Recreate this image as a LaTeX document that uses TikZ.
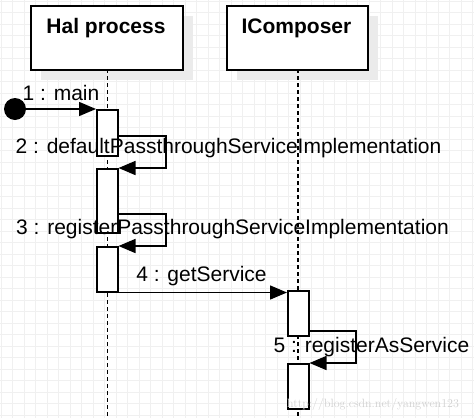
\documentclass[tikz,border=0pt]{standalone}
\usepackage{fontspec}
\setmainfont{Liberation Sans}
\usetikzlibrary{arrows.meta}
\tikzset{
  x=1pt, y=-1pt,
  lifebox/.style={draw, line width=1.5pt, fill=white},
  actbox/.style={draw, line width=1.5pt, fill=white},
  lifeline/.style={line width=1.5pt, dash pattern=on 4pt off 3pt},
  msg/.style={line width=1.5pt, -{Triangle[length=17pt,width=14pt]}},
  lbl/.style={font=\fontsize{21}{24}\selectfont, anchor=base, inner sep=0pt},
  ttl/.style={font=\fontsize{21}{24}\selectfont\bfseries, anchor=base, inner sep=0pt},
}
\begin{document}
\begin{tikzpicture}
\useasboundingbox (0,0) rectangle (474,418);
\fill[white] (0,0) rectangle (474,418);
% faint grid
\foreach \i in {0,...,41} {
  \draw[black!6, line width=0.6pt] (1+\i*11.5,0) -- (1+\i*11.5,418);
}
\foreach \j in {0,...,36} {
  \draw[black!6, line width=0.6pt] (0,1+\j*11.5) -- (474,1+\j*11.5);
}
% shadows
\fill[black!8] (41,16) rectangle (193,80);
\fill[black!8] (237,16) rectangle (378,80);
% lifelines
\coordinate (halbot) at (107.5,69);
\coordinate (halend) at (107.5,418);
\coordinate (icbot) at (298,69);
\coordinate (icend) at (298,418);
\draw[lifeline] (halbot) -- (halend);
\draw[lifeline] (icbot) -- (icend);
% head boxes
\node[lifebox, minimum width=152pt, minimum height=64pt, anchor=north west] (hal) at (30,5) {};
\node[lifebox, minimum width=141pt, minimum height=64pt, anchor=north west] (icomp) at (226,5) {};
\node[ttl] (haltitle) at (106,33) {Hal process};
\node[ttl] (ictitle) at (296.5,33) {IComposer};
% activations
\node[actbox, minimum width=21pt, minimum height=46pt, anchor=north west, inner sep=0pt] (a1) at (96,109) {};
\node[actbox, minimum width=21pt, minimum height=64pt, anchor=north west, inner sep=0pt] (a2) at (96,168) {};
\node[actbox, minimum width=21pt, minimum height=45pt, anchor=north west, inner sep=0pt] (a3) at (96,246) {};
\node[actbox, minimum width=21pt, minimum height=45pt, anchor=north west, inner sep=0pt] (a4) at (287,290) {};
\node[actbox, minimum width=21pt, minimum height=45pt, anchor=north west, inner sep=0pt] (a5) at (287,363) {};
% start dot
\node[circle, fill=black, minimum size=22pt, inner sep=0pt] (start) at (15,109) {};
% message 1
\draw[msg] (start.center) -- (a1.north west);
\node[lbl] (l1) at (61,100) {1 : main};
% message 2 (self)
\coordinate (s2a) at (117,136);
\coordinate (s2b) at (166,136);
\coordinate (s2c) at (166,168);
\draw[msg] (s2a) -- (s2b) -- (s2c) -- (a2.north east);
\node[lbl] (l2) at (228.5,153) {2 : defaultPassthroughServiceImplementation};
% message 3 (self)
\coordinate (s3a) at (117,214);
\coordinate (s3b) at (166,214);
\coordinate (s3c) at (166,246);
\draw[msg] (s3a) -- (s3b) -- (s3c) -- (a3.north east);
\node[lbl] (l3) at (232.5,234) {3 : registerPassthroughServiceImplementation};
% message 4
\draw[msg] (a3.south east) -- (a3.south east -| a4.west);
\node[lbl] (l4) at (201.5,281) {4 : getService};
% message 5 (self)
\coordinate (s5a) at (308,331);
\coordinate (s5b) at (356,331);
\coordinate (s5c) at (356,363);
\draw[msg] (s5a) -- (s5b) -- (s5c) -- (a5.north east);
\node[lbl] (l5) at (371.5,352) {5 : registerAsService};
% watermark
\node[font=\fontfamily{lmr}\fontsize{12}{14}\selectfont, text=black!18, anchor=base, inner sep=0pt] (wm) at (373,407) {http://blog.csdn.net/yangwen123};
\end{tikzpicture}
\end{document}
